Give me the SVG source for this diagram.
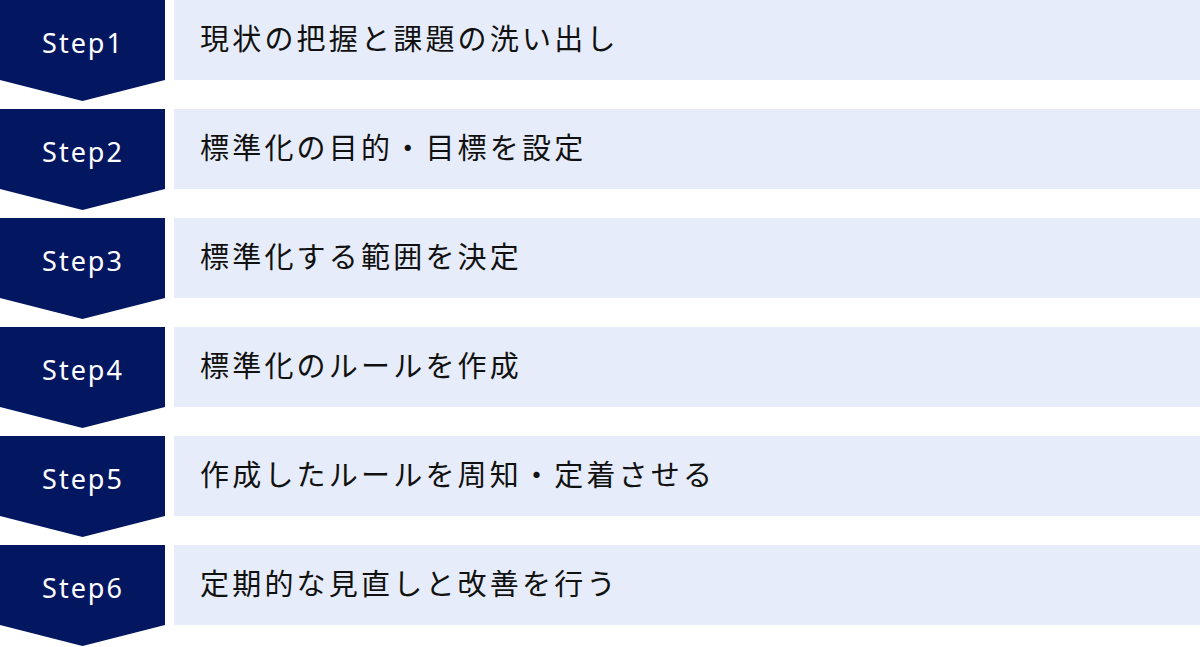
<svg xmlns="http://www.w3.org/2000/svg" width="1200" height="647" viewBox="0 0 1200 647">
<style>
.chev{fill:#031761}
.bar{fill:#E6ECF9}
.step{font-family:"Noto Sans","Open Sans",sans-serif;font-size:27px;fill:#FFFFFF;text-anchor:middle;letter-spacing:2px}
.lbl{font-family:"Noto Sans CJK JP","Noto Sans",sans-serif;font-size:29px;fill:#111111;letter-spacing:3.2px}
</style>
<rect width="1200" height="647" fill="#FFFFFF"/>
<g id="step1" transform="translate(0,0)">
<polygon class="chev" points="0,0 165,0 165,80 82.5,101 0,80"/>
<rect class="bar" x="174" y="0" width="1026" height="80"/>
<text class="step" x="83" y="52.5">Step1</text>
<text class="lbl" x="200" y="49.5">現状の把握と課題の洗い出し</text>
</g>
<g id="step2" transform="translate(0,109)">
<polygon class="chev" points="0,0 165,0 165,80 82.5,101 0,80"/>
<rect class="bar" x="174" y="0" width="1026" height="80"/>
<text class="step" x="83" y="52.5">Step2</text>
<text class="lbl" x="200" y="49.5">標準化の目的・目標を設定</text>
</g>
<g id="step3" transform="translate(0,218)">
<polygon class="chev" points="0,0 165,0 165,80 82.5,101 0,80"/>
<rect class="bar" x="174" y="0" width="1026" height="80"/>
<text class="step" x="83" y="52.5">Step3</text>
<text class="lbl" x="200" y="49.5">標準化する範囲を決定</text>
</g>
<g id="step4" transform="translate(0,327)">
<polygon class="chev" points="0,0 165,0 165,80 82.5,101 0,80"/>
<rect class="bar" x="174" y="0" width="1026" height="80"/>
<text class="step" x="83" y="52.5">Step4</text>
<text class="lbl" x="200" y="49.5">標準化のルールを作成</text>
</g>
<g id="step5" transform="translate(0,436)">
<polygon class="chev" points="0,0 165,0 165,80 82.5,101 0,80"/>
<rect class="bar" x="174" y="0" width="1026" height="80"/>
<text class="step" x="83" y="52.5">Step5</text>
<text class="lbl" x="200" y="49.5">作成したルールを周知・定着させる</text>
</g>
<g id="step6" transform="translate(0,545)">
<polygon class="chev" points="0,0 165,0 165,80 82.5,101 0,80"/>
<rect class="bar" x="174" y="0" width="1026" height="80"/>
<text class="step" x="83" y="52.5">Step6</text>
<text class="lbl" x="200" y="49.5">定期的な見直しと改善を行う</text>
</g>
<g id="connectors"/>
</svg>
